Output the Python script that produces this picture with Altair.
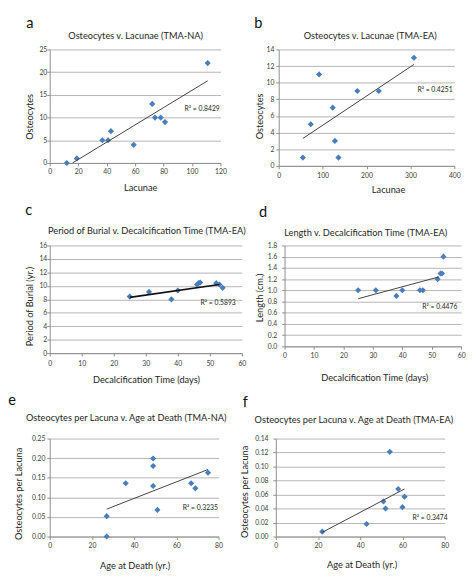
import altair as alt
import pandas as pd

FONT = "Lato"
BLUE = "#4A7EBB"
TXT = "#262626"

# ---- data ----
a_x = [12, 19, 37, 41, 43, 59, 72, 74, 78, 81, 111]
a_y = [0, 1, 5, 5, 7, 4, 13, 10, 10, 9, 22]
a_tx = [16, 111]
a_ty = [0, 18.1]

b_x = [55, 73, 92, 123, 128, 136, 179, 228, 308]
b_y = [1, 5, 11, 7, 3, 1, 9, 9, 13]
b_tx = [55, 308]
b_ty = [3.3, 12.2]

c_x = [25, 31, 38, 40, 46, 46.5, 47, 52, 53, 54]
c_y = [8.4, 9.1, 8.0, 9.3, 10.2, 10.4, 10.5, 10.4, 10.2, 9.7]
c_tx = [25, 53]
c_ty = [8.3, 10.2]

d_x = [25, 31, 38, 40, 46, 47, 52, 53, 53.5, 54]
d_y = [1.0, 1.0, 0.9, 1.0, 1.0, 1.0, 1.2, 1.3, 1.3, 1.6]
d_tx = [25, 52.5]
d_ty = [0.85, 1.24]

e_x = [27, 27, 36, 49, 49, 49, 51, 67, 69, 75]
e_y = [0.0, 0.052, 0.136, 0.199, 0.180, 0.129, 0.068, 0.136, 0.123, 0.163]
e_tx = [27, 75]
e_ty = [0.070, 0.171]

f_x = [22, 43, 51, 52, 54, 58, 60, 61]
f_y = [0.007, 0.018, 0.050, 0.040, 0.121, 0.068, 0.042, 0.057]
f_tx = [22, 61]
f_ty = [0.006, 0.068]

titles = [
    "Osteocytes v. Lacunae (TMA-NA)",
    "Osteocytes v. Lacunae (TMA-EA)",
    "Period of Burial v. Decalcification Time (TMA-EA)",
    "Length v. Decalcification Time (TMA-EA)",
    "Osteocytes per Lacuna v. Age at Death (TMA-NA)",
    "Osteocytes per Lacuna v. Age at Death (TMA-EA)",
]
letters = ["a", "b", "c", "d", "e", "f"]
r2_labels = ["R\u00b2 = 0.8429", "R\u00b2 = 0.4251", "R\u00b2 = 0.5893",
             "R\u00b2 = 0.4476", "R\u00b2 = 0.3235", "R\u00b2 = 0.3474"]
x_titles = ["Lacunae", "Lacunae", "Decalcification Time (days)",
            "Decalcification Time (days)", "Age at Death (yr.)", "Age at Death (yr.)"]
y_titles = ["Osteocytes", "Osteocytes", "Period of Burial (yr.)",
            "Length (cm.)", "Osteocytes per Lacuna", "Osteocytes per Lacuna"]

a_xticks = [0, 20, 40, 60, 80, 100, 120]
a_yticks = [0, 5, 10, 15, 20, 25]
b_xticks = [0, 100, 200, 300, 400]
b_yticks = [0, 2, 4, 6, 8, 10, 12, 14]
c_xticks = [0, 10, 20, 30, 40, 50, 60]
c_yticks = [0, 2, 4, 6, 8, 10, 12, 14, 16]
d_xticks = [0, 10, 20, 30, 40, 50, 60]
d_yticks = [0, 0.2, 0.4, 0.6, 0.8, 1.0, 1.2, 1.4, 1.6, 1.8]
e_xticks = [0, 20, 40, 60, 80]
e_yticks = [0, 0.05, 0.10, 0.15, 0.20, 0.25]
f_xticks = [0, 20, 40, 60, 80]
f_yticks = [0, 0.02, 0.04, 0.06, 0.08, 0.10, 0.12, 0.14]


def txt(s, x, y, size, align="left", baseline="middle", color=TXT):
    return alt.Chart(pd.DataFrame({"t": [s]})).mark_text(
        align=align, baseline=baseline, fontSize=size, font=FONT, color=color
    ).encode(text="t:N", x=alt.value(x), y=alt.value(y))


def panel(i, xs, ys, tx, ty, xticks, yticks, yfmt, g, lw=1.0, lc="#404040"):
    df = pd.DataFrame({"x": xs, "y": ys})
    tdf = pd.DataFrame({"x": tx, "y": ty})
    xenc = alt.X(
        "x:Q",
        scale=alt.Scale(domain=[xticks[0], xticks[-1]], nice=False, zero=False),
        axis=alt.Axis(values=xticks, format="d", title=x_titles[i],
                      titleX=g["xtx"], titleY=g["xty"], titleBaseline="middle",
                      grid=False, labelPadding=g["xlp"],
                      labelOverlap=False, labelFlush=False),
    )
    yenc = alt.Y(
        "y:Q",
        scale=alt.Scale(domain=[yticks[0], yticks[-1]], nice=False, zero=False),
        axis=alt.Axis(values=yticks, format=yfmt, title=y_titles[i],
                      titleX=g["ytx"], titleY=g["yty"], titleBaseline="middle",
                      grid=True, labelPadding=g["ylp"],
                      labelOverlap=False, labelFlush=False),
    )
    pts = alt.Chart(df).mark_point(
        shape="diamond", filled=True, size=40, color=BLUE, opacity=1
    ).encode(x=xenc, y=yenc)
    line = alt.Chart(tdf).mark_line(color=lc, strokeWidth=lw, clip=True).encode(
        x=xenc, y=yenc
    )
    lt = txt(letters[i], g["lx"], g["ly"], 15, baseline="alphabetic", color="#111111")
    tt = txt(titles[i], g["tx"], g["ty"], 9.5, align="center")
    rt = txt(r2_labels[i], g["rx"], g["ry"], 7)
    return alt.layer(pts, line, lt, tt, rt).properties(width=g["w"], height=g["h"])


G = [
    dict(w=176, h=117, lx=-24.3, ly=-21.6, tx=88.5, ty=-13.7, ytx=-20.4, yty=69, xtx=93.3, xty=25.5, rx=139, ry=61.5, xlp=2, ylp=0),
    dict(w=181, h=120, lx=-25.3, ly=-21.6, tx=94.3, ty=-13.7, ytx=-19.5, yty=68.5, xtx=112.7, xty=24.5, rx=142.9, ry=42, xlp=3, ylp=2),
    dict(w=198, h=111, lx=-25.3, ly=-31.4, tx=100.1, ty=-14.7, ytx=-20.8, yty=62.5, xtx=99.2, xty=27.5, rx=155.5, ry=59.5, xlp=4, ylp=0),
    dict(w=182, h=104, lx=-26.2, ly=-29.4, tx=83.6, ty=-12.8, ytx=-26.2, yty=53.5, xtx=92.4, xty=32.3, rx=141.9, ry=63.3, xlp=2, ylp=5),
    dict(w=174, h=101, lx=-42.8, ly=-34.3, tx=78.8, ty=-20.6, ytx=-32.1, yty=56.5, xtx=87.5, xty=29.5, rx=137.1, ry=72, xlp=2, ylp=2),
    dict(w=174, h=101, lx=-34.0, ly=-32.4, tx=80.5, ty=-18.7, ytx=-32.1, yty=54.5, xtx=88.4, xty=28.5, rx=140.9, ry=81.8, xlp=2, ylp=5),
]

pa = panel(0, a_x, a_y, a_tx, a_ty, a_xticks, a_yticks, "d", G[0])
pb = panel(1, b_x, b_y, b_tx, b_ty, b_xticks, b_yticks, "d", G[1])
pc = panel(2, c_x, c_y, c_tx, c_ty, c_xticks, c_yticks, "d", G[2], lw=1.8, lc="#111111")
pd_ = panel(3, d_x, d_y, d_tx, d_ty, d_xticks, d_yticks, ".1f", G[3])
pe = panel(4, e_x, e_y, e_tx, e_ty, e_xticks, e_yticks, ".2f", G[4])
pf = panel(5, f_x, f_y, f_tx, f_ty, f_xticks, f_yticks, ".2f", G[5])

row1 = alt.hconcat(pa, pb, spacing=60, bounds="flush")
row2 = alt.hconcat(pc, pd_, spacing=44, bounds="flush")
row3 = alt.hconcat(pe, pf, spacing=59, bounds="flush")

chart = alt.vconcat(row1, row2, row3, spacing=9).properties(
    padding=0, background="white"
).configure_view(strokeWidth=0).configure_axis(
    labelFont=FONT, labelFontSize=7, labelColor="#404040",
    titleFont=FONT, titleFontSize=9.5, titleFontWeight="normal", titleColor=TXT,
    domainColor="#8c8c8c", tickColor="#8c8c8c", tickSize=3,
    gridColor="#b4b4b4", gridWidth=1,
)

chart.save("out.html", embed_options={"renderer": "svg", "actions": False})
